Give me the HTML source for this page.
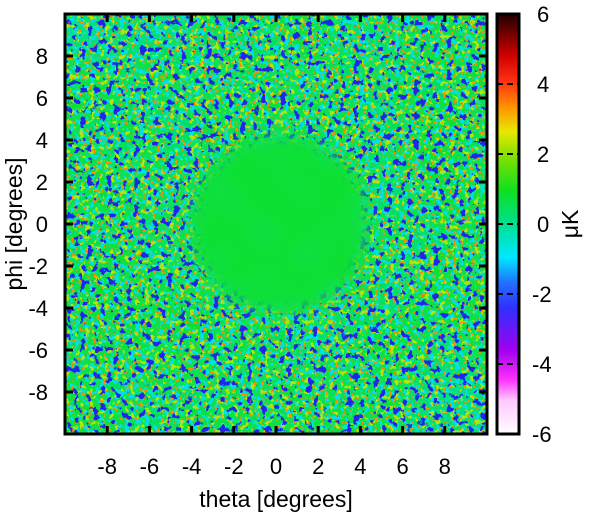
<!DOCTYPE html>
<html><head><meta charset="utf-8"><style>
body{margin:0;background:#fff;}
svg{display:block;font-family:"Liberation Sans",Arial,sans-serif;}
</style></head><body>
<svg id="chart" width="600" height="514" viewBox="0 0 600 514">
<defs>
<clipPath id="plotclip"><rect x="65" y="14" width="422" height="420"/></clipPath>
<filter id="soft" x="-10%" y="-10%" width="120%" height="120%"><feGaussianBlur stdDeviation="9"/></filter>
<filter id="holeblur" x="-20%" y="-20%" width="140%" height="140%"><feGaussianBlur stdDeviation="6"/></filter>
<filter id="bluespots" x="0" y="0" width="100%" height="100%" color-interpolation-filters="sRGB">
<feTurbulence type="fractalNoise" baseFrequency="0.15" numOctaves="3" seed="3"/>
<feColorMatrix type="matrix" values="0 0 0 0 0.12  0 0 0 0 0.15  0 0 0 0 0.92  26 0 0 0 -15.9"/>
</filter>
<filter id="yellowspots" x="0" y="0" width="100%" height="100%" color-interpolation-filters="sRGB">
<feTurbulence type="fractalNoise" baseFrequency="0.2" numOctaves="2" seed="11"/>
<feColorMatrix type="matrix" values="0 0 0 0 0.7  0 0 0 0 0.9  0 0 0 0 0.05  0 24 0 0 -14.6"/>
</filter>
<filter id="orangespots" x="0" y="0" width="100%" height="100%" color-interpolation-filters="sRGB">
<feTurbulence type="fractalNoise" baseFrequency="0.28" numOctaves="2" seed="41"/>
<feColorMatrix type="matrix" values="0 0 0 0 1  0 0 0 0 0.55  0 0 0 0 0  0 0 30 0 -19.6"/>
</filter>
<filter id="cyanspots" x="0" y="0" width="100%" height="100%" color-interpolation-filters="sRGB">
<feTurbulence type="fractalNoise" baseFrequency="0.2" numOctaves="2" seed="27"/>
<feColorMatrix type="matrix" values="0 0 0 0 0  0 0 0 0 0.88  0 0 0 0 0.9  0 0 20 0 -11"/>
</filter>
<mask id="nodisk"><rect x="65" y="14" width="422" height="420" fill="#fff"/><circle id="diskhole" cx="280" cy="224" r="88" fill="#000" filter="url(#holeblur)"/></mask>
<linearGradient id="cbar" x1="0" y1="1" x2="0" y2="0">
<stop offset="0" stop-color="#ffffff"/><stop offset="0.08" stop-color="#ffc8ff"/>
<stop offset="0.13" stop-color="#ff30ff"/><stop offset="0.2" stop-color="#a000f0"/>
<stop offset="0.3" stop-color="#3030ff"/><stop offset="0.36" stop-color="#2070ff"/>
<stop offset="0.42" stop-color="#00e8ff"/><stop offset="0.5" stop-color="#00e090"/>
<stop offset="0.58" stop-color="#10e020"/><stop offset="0.66" stop-color="#80e000"/>
<stop offset="0.72" stop-color="#e8e800"/><stop offset="0.78" stop-color="#ff9000"/>
<stop offset="0.84" stop-color="#ff3010"/><stop offset="0.9" stop-color="#d00000"/>
<stop offset="1" stop-color="#200000"/>
</linearGradient>
</defs>
<g id="cells" clip-path="url(#plotclip)"><g id="cellsinner" filter="url(#soft)"></g>
<g mask="url(#nodisk)">
<rect x="65" y="14" width="422" height="420" filter="url(#cyanspots)"/>
<rect x="65" y="14" width="422" height="420" filter="url(#yellowspots)"/>
<rect x="65" y="14" width="422" height="420" filter="url(#orangespots)"/>
<rect x="65" y="14" width="422" height="420" filter="url(#bluespots)"/>
</g></g>
<rect x="65" y="14" width="422" height="420" fill="none" stroke="#000" stroke-width="3"/>
<g id="ticks"></g>
<text x="276" y="507" text-anchor="middle" font-size="23">theta [degrees]</text>
<text transform="translate(22,224) rotate(-90)" text-anchor="middle" font-size="23">phi [degrees]</text>
<rect x="497" y="14" width="22" height="420" fill="url(#cbar)" stroke="#000" stroke-width="3"/>
<g id="cbticks"></g>
<text transform="translate(578,224) rotate(-90)" text-anchor="middle" font-size="23">μK</text>
</svg>
<script>
const xTicks=[-8,-6,-4,-2,0,2,4,6,8];
const yTicks=[8,6,4,2,0,-2,-4,-6,-8];
const cbTicks=[6,4,2,0,-2,-4,-6];
// local-average temperature values (μK), rows phi 9.5 -> -9.5, cols theta -9.5 -> 9.5
const grid=[
[-0.6,-0.4,-0.2,0.0,-0.5,-0.3,0.1,0.2,-0.2,0.0,0.3,0.1,0.2,-0.3,0.0,0.2,-0.2,0.1,0.2,0.0],
[-0.3,-0.5,0.1,-0.4,-0.2,0.0,-0.3,0.2,0.1,-0.2,0.0,0.3,-0.1,0.1,-0.4,0.0,0.3,0.1,-0.1,0.2],
[0.2,0.0,-0.3,0.1,0.3,-0.2,0.1,-0.1,0.3,0.0,-0.3,0.1,0.2,-0.2,0.1,-0.3,0.0,0.2,0.3,0.1],
[0.1,0.3,0.0,-0.2,0.1,0.2,-0.3,0.0,-0.2,0.2,0.1,-0.1,0.0,0.3,-0.1,0.1,0.2,-0.2,0.0,0.3],
[0.3,0.1,0.2,-0.1,-0.3,0.0,0.1,0.2,0.1,0.3,0.0,0.2,0.1,0.0,-0.3,0.2,0.1,0.3,0.2,0.0],
[0.0,-0.3,0.1,0.2,0.0,-0.4,0.3,0.0,0.0,0.0,0.0,0.0,0.0,0.2,0.1,-0.2,0.0,0.1,0.3,0.2],
[0.2,0.0,-0.2,0.3,0.1,-0.2,0.0,0.0,0.3,0.2,0.3,0.3,0.0,0.0,-0.2,0.0,0.2,0.3,0.1,-0.1],
[0.1,0.2,0.0,-0.1,0.2,0.0,0.0,0.3,0.3,0.3,0.2,0.3,0.3,0.3,0.0,-0.1,0.1,0.2,0.3,0.0],
[-0.2,0.3,0.2,0.1,-0.3,0.0,0.3,0.1,0.3,0.3,0.3,0.2,0.3,0.3,0.0,-0.3,0.0,0.3,0.2,0.1],
[0.1,0.0,0.3,-0.2,0.1,0.0,0.2,0.3,0.2,0.3,0.3,0.3,0.3,0.2,0.0,-0.2,0.1,0.0,0.2,0.3],
[0.2,-0.2,0.1,0.2,0.0,0.0,0.3,0.3,0.3,0.1,0.3,0.3,0.2,0.3,0.0,0.0,-0.2,0.1,0.0,0.2],
[-0.1,0.1,0.3,0.0,-0.2,0.0,0.3,0.2,0.3,0.3,0.3,0.1,0.3,0.3,0.0,0.1,-0.3,0.2,0.1,0.0],
[0.3,0.2,0.0,0.2,0.1,-0.1,0.0,0.3,0.3,0.2,0.3,0.3,0.3,0.3,0.0,-0.2,0.0,0.3,0.2,0.1],
[0.0,0.3,0.2,0.1,0.3,0.2,0.0,0.0,0.2,0.3,0.2,0.3,0.0,0.0,0.0,-0.3,0.1,0.2,0.0,0.3],
[0.2,0.1,0.3,0.2,0.0,0.3,0.4,0.0,0.0,0.0,0.0,0.2,0.0,-0.2,0.1,0.0,0.2,0.0,0.3,0.1],
[-0.3,0.2,0.0,0.3,0.2,0.1,0.3,0.2,0.0,0.1,-0.2,0.0,-0.3,0.1,0.2,0.3,0.1,-0.2,0.0,0.2],
[0.0,0.3,0.2,-0.1,0.1,0.3,0.0,-0.2,0.2,0.1,0.0,-0.3,0.1,0.0,0.2,0.1,0.3,0.0,-0.3,0.1],
[0.2,0.0,-0.2,0.1,0.3,-0.1,0.2,0.1,-0.3,0.0,0.2,0.1,0.0,0.2,-0.2,0.1,0.0,-0.3,-0.4,-0.2],
[0.1,0.3,0.0,-0.3,0.0,0.2,-0.2,0.1,0.2,-0.1,0.3,0.0,0.2,-0.2,0.1,0.3,0.0,-0.4,-0.5,-0.3],
[0.3,0.1,0.2,0.0,-0.2,0.1,0.3,0.0,0.1,0.2,0.0,0.2,0.1,0.3,0.0,0.2,-0.2,0.0,-0.3,-0.4]
];
const diskCenter=[0.2,0.0];
const diskRadius=4.2;
const X0=65,X1=487,Y0=14,Y1=434;
const xs=v=>X0+(v+10)/20*(X1-X0);
const ys=v=>Y0+(10-v)/20*(Y1-Y0);
const cs=v=>Y0+(6-v)/12*(Y1-Y0);
const stops=[[-6,[255,255,255]],[-5,[255,200,255]],[-4.5,[255,48,255]],[-3.5,[160,0,240]],[-2.5,[48,48,255]],[-1.5,[32,112,255]],[-1,[0,232,255]],[0,[0,224,144]],[1,[16,224,32]],[2,[128,224,0]],[2.6,[232,232,0]],[3.4,[255,144,0]],[4,[255,48,16]],[5,[208,0,0]],[6,[32,0,0]]];
function col(v){
  if(v<=stops[0][0])return 'rgb(255,255,255)';
  for(let i=1;i<stops.length;i++){
    if(v<=stops[i][0]){const[a,ca]=stops[i-1],[b,cb]=stops[i];const t=(v-a)/(b-a);
      return 'rgb('+ca.map((c,k)=>Math.round(c+(cb[k]-c)*t)).join(',')+')';}
  }
  return 'rgb(32,0,0)';
}
const NS='http://www.w3.org/2000/svg';
const hole=document.getElementById('diskhole');
hole.setAttribute('cx',xs(diskCenter[0]));hole.setAttribute('cy',ys(diskCenter[1]));
hole.setAttribute('r',xs(diskRadius)-xs(0));
const inner=document.getElementById('cellsinner');
const n=grid.length,m=grid[0].length;
for(let r=0;r<n;r++)for(let c=0;c<m;c++){
  const t0=-10+c*20/m, p0=10-r*20/n;
  const rc=document.createElementNS(NS,'rect');
  let x=xs(t0)-0.5,y=ys(p0)-0.5,w=xs(t0+20/m)-xs(t0)+1,h=ys(p0-20/n)-ys(p0)+1;
  if(c===0){x-=20;w+=20;} if(c===m-1){w+=20;}
  if(r===0){y-=20;h+=20;} if(r===n-1){h+=20;}
  rc.setAttribute('x',x);rc.setAttribute('y',y);rc.setAttribute('width',w);rc.setAttribute('height',h);
  rc.setAttribute('fill',col(grid[r][c]+0.55));
  
  
  inner.appendChild(rc);
}
const tg=document.getElementById('ticks');
function line(g,x1,y1,x2,y2,w,dash){const l=document.createElementNS(NS,'line');l.setAttribute('x1',x1);l.setAttribute('y1',y1);l.setAttribute('x2',x2);l.setAttribute('y2',y2);l.setAttribute('stroke','#000');l.setAttribute('stroke-width',w);if(dash)l.setAttribute('stroke-dasharray',dash);g.appendChild(l);return l;}
function text(g,x,y,s,anchor){const t=document.createElementNS(NS,'text');t.setAttribute('x',x);t.setAttribute('y',y);t.setAttribute('font-size','22');t.setAttribute('text-anchor',anchor);t.textContent=s;g.appendChild(t);return t;}
xTicks.forEach(v=>{const x=xs(v);
  line(tg,x,Y1,x,Y1-8,3);line(tg,x,Y0,x,Y0+8,3);
  const t=text(tg,x,474,String(v),'middle');
  
  
});
yTicks.forEach(v=>{const y=ys(v);
  line(tg,X0,y,X0+8,y,3);line(tg,X1,y,X1-8,y,3);
  const t=text(tg,48,y+8,String(v),'end');
  
  
});
const cg=document.getElementById('cbticks');
cbTicks.forEach(v=>{const y=cs(v);
  if(v>-6&&v<6)line(cg,497,y,519,y,2,'6,4');
  const t=text(cg,v<0?532:537,y+8,String(v),'start');
  
  
});
</script>
</body></html>
